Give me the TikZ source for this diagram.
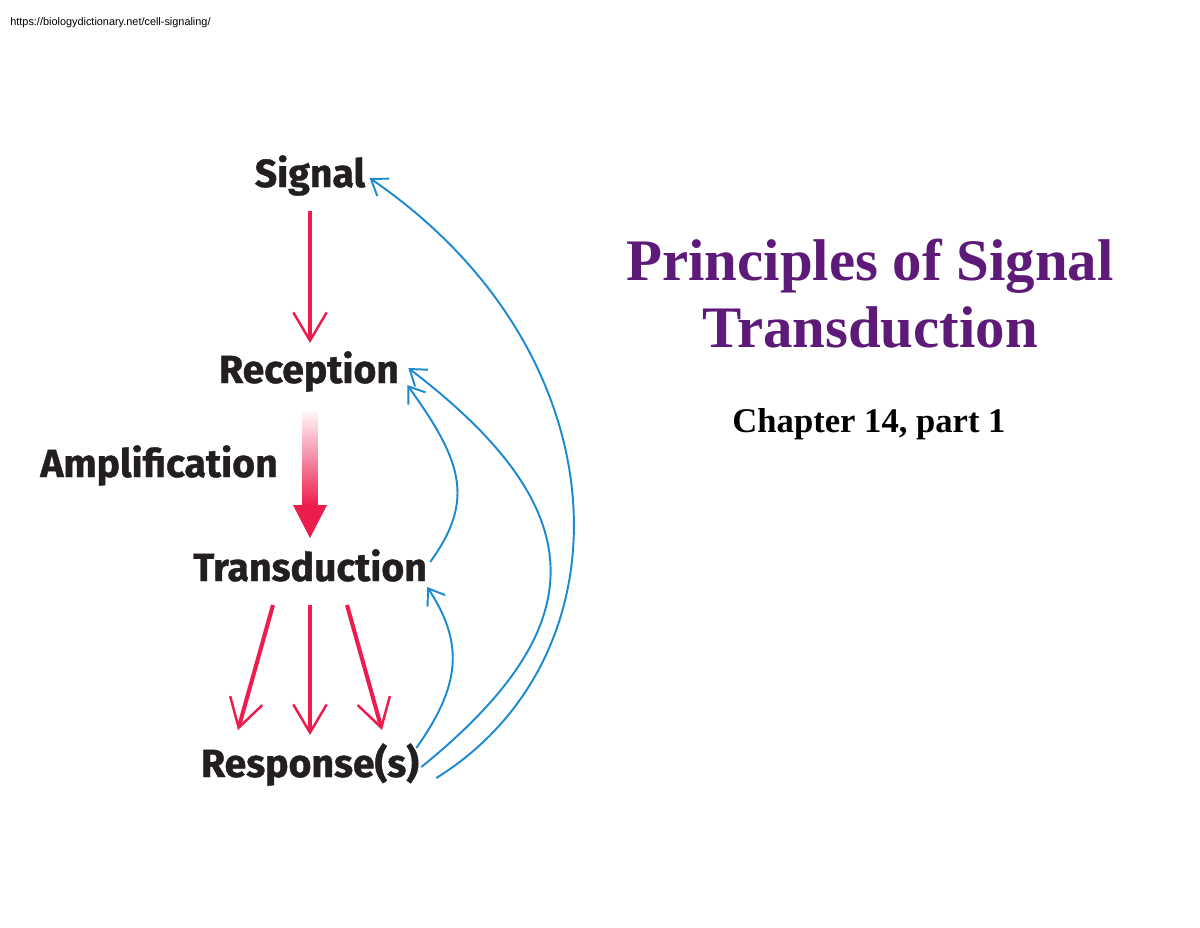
\documentclass[tikz,border=0pt]{standalone}
\usepackage{fontspec}
\setmainfont{Liberation Serif}
\newfontfamily\diagfont{Fira Sans}[BoldFeatures={FakeBold=1}]
\newfontfamily\urlfont{Liberation Sans}
\usetikzlibrary{arrows.meta,calc}
\definecolor{sigred}{HTML}{EC1C4C}
\definecolor{fbblue}{HTML}{1C8AD0}
\definecolor{ttlpurple}{HTML}{5E1A78}
\definecolor{ink}{HTML}{231F20}
\begin{document}
\begin{tikzpicture}[x=0.02cm,y=-0.02cm,
  lbl/.style={anchor=base, inner sep=0pt, text=ink,
    font=\diagfont\bfseries\fontsize{22.3}{26}\selectfont},
  redarr/.style={draw=sigred, line width=2.3pt,
    -{Straight Barb[length=16pt,width=19pt,line width=1.4pt]}},
  bluearr/.style={draw=fbblue, line width=1.1pt,
    -{Straight Barb[length=8.5pt,width=12pt,line width=1.1pt]}},
  ttl/.style={anchor=base, inner sep=0pt, text=ttlpurple,
    font=\bfseries\fontsize{33.5}{38}\selectfont},
]
\useasboundingbox (0,0) rectangle (1200,927);
\fill[white] (0,0) rectangle (1200,927);

% source line
\node[anchor=base west, inner sep=0pt, font=\urlfont\fontsize{6.2}{7.5}\selectfont]
  (src) at (10,25) {https://biologydictionary.net/cell-signaling/};

% diagram labels
\node[lbl] (sig) at (310,187) {Signal};
\node[lbl] (rec) at (309,383) {Reception};
\node[lbl] (amp) at (159,477) {Amplification};
\node[lbl] (tra) at (310,581) {Transduction};
\node[lbl] (res) at (310,777) {Response(s)};

% Signal -> Reception
\draw[redarr] ($(sig.base)+(0,24)$) -- ($(rec.base)+(1,-40)$);

% Amplification arrow (gradient)
\coordinate (ampTop) at ($(rec.base)+(1,25)$);
\coordinate (ampTip) at ($(tra.base)+(0,-43)$);
\shade[top color=white, bottom color=sigred]
  ($(ampTop)+(-7.5,0)$) rectangle ($(ampTip)+(7.5,-32)$);
\fill[sigred] ($(ampTip)+(-17,-33)$) -- ($(ampTip)+(17,-33)$) -- (ampTip) -- cycle;

% Transduction -> Responses
\draw[redarr] ($(tra.base)+(-37,24)$) -- ($(res.base)+(-72,-47)$);
\draw[redarr] ($(tra.base)+(0,24)$) -- ($(res.base)+(0,-42)$);
\draw[redarr] ($(tra.base)+(37,24)$) -- ($(res.base)+(72,-47)$);

% feedback arrows
\draw[bluearr] ($(res.base east)+(17,1)$) .. controls (634,655) and (624,352) .. ($(sig.base east)+(4,-9)$);
\draw[bluearr] ($(res.base east)+(2,-10)$) .. controls (594,627) and (597,512) .. ($(rec.base east)+(9,-15)$);
\draw[bluearr] ($(tra.base east)+(3,-19)$) .. controls (476,499) and (461,460) .. ($(rec.base east)+(8,2)$);
\draw[bluearr] ($(res.base east)+(-3,-29)$) .. controls (461,685) and (464,643) .. ($(tra.base east)+(0,6)$);

% title
\node[ttl] (t1) at (870,280) {Principles of Signal};
\node[ttl] (t2) at (870,347) {Transduction};
\node[anchor=base, inner sep=0pt, font=\bfseries\fontsize{19.7}{23}\selectfont]
  (chap) at (869,432) {Chapter 14, part 1};
\end{tikzpicture}
\end{document}
